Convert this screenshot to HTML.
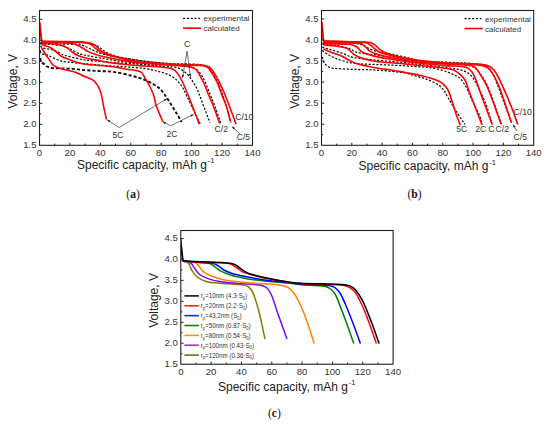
<!DOCTYPE html>
<html><head><meta charset="utf-8"><style>
html,body{margin:0;padding:0;background:#fff;}
svg{display:block;font-family:"Liberation Sans", sans-serif;}
</style></head><body>
<svg width="550" height="424" viewBox="0 0 550 424">
<rect width="550" height="424" fill="#fff"/>
<defs><clipPath id="ca"><rect x="39.5" y="10.5" width="213.0" height="134.8"/></clipPath><clipPath id="cb"><rect x="321.5" y="10.5" width="212.20000000000005" height="134.8"/></clipPath><clipPath id="cc"><rect x="180.8" y="230.5" width="212.3" height="133.7"/></clipPath></defs>
<path d="M39.6,22.0L41.6,41.5" stroke="#ff0000" stroke-width="2" fill="none" clip-path="url(#ca)"/>
<path d="M40.30,58.00C40.53,59.23 40.35,60.64 41.00,61.70C41.73,62.89 43.81,63.73 44.80,64.60C45.50,65.22 45.68,65.81 46.50,66.30C47.81,67.08 49.93,67.60 52.40,68.00C56.33,68.63 62.77,68.27 68.00,68.60C73.30,68.93 78.84,69.59 84.00,70.00C88.82,70.38 93.28,70.70 98.00,71.00C102.84,71.30 107.51,71.12 112.70,71.80C118.68,72.58 126.34,74.43 131.80,75.80C135.96,76.85 139.12,77.62 142.70,79.00C146.39,80.43 150.51,82.48 153.60,84.30C156.08,85.76 158.11,87.03 160.00,88.80C161.91,90.59 163.26,92.58 165.00,95.00C167.22,98.09 169.87,102.62 172.00,106.00C173.81,108.87 175.41,111.31 177.00,114.00C178.57,116.65 180.00,119.33 181.50,122.00" fill="none" stroke="#111" stroke-width="1.9" stroke-dasharray="3.2,2.0" clip-path="url(#ca)"/>
<path d="M40.30,51.00C40.53,51.73 40.41,52.61 41.00,53.20C41.94,54.13 44.59,54.20 46.50,54.90C48.67,55.69 50.90,56.81 53.30,57.80C55.97,58.90 59.15,60.49 61.80,61.20C63.99,61.79 65.45,61.79 68.00,62.10C72.09,62.60 79.95,63.33 84.00,63.70C86.48,63.93 87.42,63.98 90.00,64.20C94.72,64.60 102.52,65.31 110.00,65.90C119.57,66.66 133.55,67.04 142.70,68.30C149.41,69.22 155.45,70.61 160.00,71.80C163.04,72.59 165.12,73.17 167.50,74.20C169.85,75.21 172.25,76.43 174.20,77.90C176.01,79.27 177.44,80.93 178.90,82.60C180.38,84.29 181.74,85.92 183.00,88.00C184.48,90.45 185.59,93.52 187.00,96.50C188.57,99.82 190.36,103.64 192.00,107.00C193.52,110.12 195.06,113.03 196.50,116.00C197.89,118.87 199.17,121.67 200.50,124.50" fill="none" stroke="#111" stroke-width="1.25" stroke-dasharray="2.2,1.6" clip-path="url(#ca)"/>
<path d="M40.30,46.00C41.23,46.70 41.85,47.57 43.10,48.10C44.95,48.88 48.27,48.65 50.70,49.30C53.06,49.93 55.33,50.94 57.50,51.90C59.59,52.82 61.61,54.16 63.50,54.90C65.08,55.52 66.03,55.69 68.00,56.20C71.69,57.16 79.93,59.23 84.00,59.90C86.46,60.31 87.36,60.25 90.00,60.50C95.14,60.98 104.78,61.89 112.70,62.50C121.38,63.17 131.10,63.60 140.00,64.30C148.52,64.97 156.67,65.83 165.00,66.60" fill="none" stroke="#111" stroke-width="1.25" stroke-dasharray="2.2,1.6" clip-path="url(#ca)"/>
<path d="M40.30,43.80C45.20,44.10 50.78,44.15 55.00,44.70C58.24,45.12 61.13,45.80 63.50,46.40C65.25,46.85 66.43,47.14 68.00,47.80C69.89,48.59 72.00,49.95 74.00,51.00C76.00,52.05 78.16,53.43 80.00,54.10C81.43,54.62 82.53,54.70 84.00,55.00C85.79,55.37 87.36,55.62 90.00,56.10C95.14,57.02 104.77,58.85 112.70,60.10C121.37,61.47 131.09,62.82 140.00,63.90C148.51,64.93 158.18,65.86 165.00,66.50C169.72,66.94 173.82,66.59 177.00,67.50C179.30,68.16 180.86,69.27 182.60,70.40C184.32,71.51 185.98,72.77 187.40,74.20C188.81,75.61 189.98,77.30 191.10,78.90C192.17,80.44 193.05,82.03 194.00,83.60C194.95,85.16 196.01,86.70 196.80,88.30C197.56,89.84 198.07,91.41 198.70,93.00C199.34,94.64 199.88,96.09 200.60,98.00C201.57,100.56 202.70,103.59 204.00,107.00C205.71,111.49 208.00,117.40 210.00,122.60" fill="none" stroke="#111" stroke-width="1.25" stroke-dasharray="2.2,1.6" clip-path="url(#ca)"/>
<path d="M40.30,43.50C46.87,43.67 53.41,43.78 60.00,44.00C66.64,44.22 75.90,44.16 80.00,44.80C81.87,45.09 82.51,45.35 84.00,45.90C86.02,46.65 88.77,48.21 90.90,49.20C92.72,50.05 94.24,50.75 96.00,51.50C97.86,52.29 99.53,53.09 101.80,53.80C104.84,54.74 108.23,55.44 112.70,56.30C119.73,57.64 130.68,59.16 140.00,60.50C149.76,61.90 161.27,63.38 170.00,64.50C176.76,65.36 183.52,65.81 188.00,66.70C190.73,67.24 192.62,67.62 194.50,68.50C196.16,69.28 197.48,70.18 198.80,71.50C200.36,73.06 201.72,75.23 203.00,77.50C204.49,80.13 205.70,83.41 207.00,86.50C208.36,89.73 209.67,93.17 211.00,96.50C212.33,99.83 213.58,102.68 215.00,106.50C216.86,111.50 219.00,118.17 221.00,124.00" fill="none" stroke="#111" stroke-width="1.25" stroke-dasharray="2.2,1.6" clip-path="url(#ca)"/>
<path d="M40.30,42.50C53.53,42.60 71.16,42.46 80.00,42.80C84.44,42.97 87.26,43.00 90.00,43.50C91.98,43.86 93.40,44.33 95.00,45.00C96.60,45.67 98.22,46.57 99.60,47.50C100.86,48.35 101.51,49.33 103.00,50.30C105.35,51.83 108.52,53.76 112.70,55.20C119.38,57.50 130.65,59.23 140.00,60.60C149.73,62.03 159.68,62.74 170.00,63.50C180.97,64.30 198.30,63.53 204.00,65.20C206.10,65.82 206.74,66.48 208.00,67.50C209.43,68.67 210.64,70.07 212.00,72.00C213.95,74.78 216.29,79.37 218.00,83.00C219.58,86.37 220.72,89.50 222.00,93.00C223.39,96.80 224.64,100.61 226.00,105.00C227.63,110.27 229.33,116.67 231.00,122.50" fill="none" stroke="#111" stroke-width="1.25" stroke-dasharray="2.2,1.6" clip-path="url(#ca)"/>
<path d="M41.60,48.00C42.73,49.83 43.76,51.61 45.00,53.50C46.37,55.59 48.09,57.98 49.50,60.00C50.74,61.78 51.59,63.73 53.00,65.00C54.29,66.17 55.82,66.78 57.50,67.50C59.43,68.32 61.49,68.80 64.00,69.50C67.38,70.44 72.46,71.23 76.00,72.50C79.00,73.57 81.21,75.02 84.00,76.30C87.02,77.69 90.90,78.32 93.50,80.50C96.21,82.76 98.15,86.01 99.80,89.80C101.91,94.66 102.71,102.47 103.90,107.80C104.85,112.06 105.57,115.47 106.40,119.30" fill="none" stroke="#ff0000" stroke-width="1.6" clip-path="url(#ca)"/>
<path d="M41.60,44.50C44.43,45.50 47.62,46.22 50.10,47.50C52.28,48.62 53.94,50.04 55.80,51.50C57.74,53.03 59.42,55.24 61.50,56.50C63.50,57.71 65.72,58.13 68.00,59.00C70.53,59.96 73.31,61.16 76.00,62.00C78.64,62.82 80.48,63.39 84.00,64.00C90.58,65.14 104.90,65.74 112.70,66.80C118.12,67.54 122.09,68.51 126.40,69.20C130.24,69.82 134.53,70.06 137.30,70.80C139.10,71.28 140.38,71.48 141.60,72.50C143.04,73.70 143.82,76.01 145.00,78.00C146.37,80.30 147.93,82.82 149.30,85.50C150.81,88.45 152.48,91.74 153.60,95.00C154.71,98.24 154.81,101.29 156.00,105.00C157.58,109.91 160.53,116.13 162.80,121.70" fill="none" stroke="#ff0000" stroke-width="1.6" clip-path="url(#ca)"/>
<path d="M41.60,43.30C46.07,43.53 51.22,43.52 55.00,44.00C57.82,44.36 60.06,44.73 62.30,45.50C64.37,46.21 66.25,47.14 68.00,48.30C69.75,49.47 71.11,51.29 72.80,52.50C74.44,53.68 76.16,54.66 78.00,55.50C79.89,56.37 81.98,57.01 84.00,57.60C85.98,58.18 87.96,58.59 90.00,59.00C92.09,59.42 93.78,59.64 96.40,60.10C100.59,60.83 106.55,62.14 112.70,63.00C120.62,64.11 131.09,65.04 140.00,65.80C148.51,66.53 159.25,66.77 165.00,67.50C168.07,67.89 170.06,68.00 172.00,68.80C173.60,69.45 174.68,70.13 176.00,71.50C178.02,73.58 179.92,77.00 182.00,81.00C185.16,87.08 188.98,97.42 192.00,105.00C194.68,111.73 196.87,117.80 199.30,124.20" fill="none" stroke="#ff0000" stroke-width="1.6" clip-path="url(#ca)"/>
<path d="M41.60,42.20C47.73,42.40 54.52,42.55 60.00,42.80C64.43,43.00 68.72,42.87 72.00,43.50C74.38,43.96 76.01,44.61 78.00,45.50C80.15,46.47 82.49,48.05 84.40,49.20C85.98,50.16 86.81,51.00 88.70,51.90C91.82,53.38 96.83,54.98 101.80,56.30C108.10,57.97 116.84,59.44 123.60,60.60C129.44,61.60 133.70,62.33 140.00,63.00C148.49,63.90 161.56,64.38 170.00,65.00C176.17,65.46 181.96,65.73 186.00,66.30C188.49,66.65 190.24,66.90 192.00,67.50C193.51,68.02 194.79,68.42 196.00,69.50C197.57,70.90 198.75,73.45 200.10,75.80C201.69,78.58 203.38,82.00 204.80,85.20C206.22,88.40 207.25,91.73 208.60,95.00C209.98,98.33 211.45,101.13 213.00,105.00C215.08,110.18 217.47,117.27 219.70,123.40" fill="none" stroke="#ff0000" stroke-width="1.6" clip-path="url(#ca)"/>
<path d="M41.60,41.60C47.73,41.70 53.59,41.79 60.00,41.90C67.01,42.02 76.98,41.88 82.00,42.30C84.64,42.52 86.24,42.64 88.00,43.20C89.51,43.68 90.70,44.31 92.00,45.20C93.50,46.23 94.80,48.00 96.40,49.20C98.05,50.44 99.62,51.47 101.80,52.50C104.74,53.89 109.04,55.21 112.70,56.30C116.31,57.37 119.58,58.11 123.60,59.00C128.50,60.08 133.69,61.36 140.00,62.20C148.47,63.33 159.99,63.85 170.00,64.40C179.99,64.95 194.21,64.93 200.00,65.50C202.38,65.73 203.56,65.90 205.00,66.30C206.15,66.62 207.02,66.72 208.00,67.50C209.52,68.71 210.91,71.47 212.40,73.90C214.23,76.89 216.43,80.66 218.00,84.20C219.55,87.70 220.45,91.49 221.80,95.00C223.12,98.42 224.71,101.19 226.00,105.00C227.63,109.81 228.93,116.13 230.40,121.70" fill="none" stroke="#ff0000" stroke-width="1.6" clip-path="url(#ca)"/>
<path d="M41.60,41.20C47.73,41.30 53.40,41.35 60.00,41.50C67.70,41.67 79.53,41.67 85.00,42.20C87.70,42.46 89.21,42.61 91.00,43.20C92.60,43.73 93.94,44.41 95.30,45.40C96.83,46.51 97.99,48.45 99.60,49.70C101.25,50.99 102.89,51.97 105.10,53.00C108.06,54.39 111.61,55.58 116.00,56.80C122.40,58.57 131.51,60.61 140.00,61.80C149.40,63.12 159.76,63.42 170.00,64.00C180.73,64.60 197.09,64.53 203.00,65.30C205.21,65.59 206.18,65.79 207.50,66.30C208.64,66.74 209.53,67.15 210.50,68.00C211.79,69.13 212.91,70.91 214.20,72.90C215.99,75.67 218.11,79.69 219.90,83.30C221.76,87.05 223.53,91.24 225.10,95.00C226.54,98.45 227.53,101.12 229.00,105.00C231.04,110.36 233.73,117.80 236.10,124.20" fill="none" stroke="#ff0000" stroke-width="1.6" clip-path="url(#ca)"/>
<rect x="39.50" y="10.50" width="213.00" height="134.80" fill="none" stroke="#222" stroke-width="1.1"/>
<path d="M54.71,145.30v-1.6M69.93,145.30v-2.6M85.14,145.30v-1.6M100.36,145.30v-2.6M115.57,145.30v-1.6M130.79,145.30v-2.6M146.00,145.30v-1.6M161.21,145.30v-2.6M176.43,145.30v-1.6M191.64,145.30v-2.6M206.86,145.30v-1.6M222.07,145.30v-2.6M237.29,145.30v-1.6M39.50,134.80h1.6M39.50,124.30h2.8M39.50,113.80h1.6M39.50,103.30h2.8M39.50,92.80h1.6M39.50,82.30h2.8M39.50,71.80h1.6M39.50,61.30h2.8M39.50,50.80h1.6M39.50,40.30h2.8M39.50,29.80h1.6M39.50,19.30h2.8" stroke="#222" stroke-width="1" fill="none"/>
<text x="36.50" y="147.90" text-anchor="end" font-size="9.6" fill="#333">1.5</text>
<text x="36.50" y="126.90" text-anchor="end" font-size="9.6" fill="#333">2.0</text>
<text x="36.50" y="105.90" text-anchor="end" font-size="9.6" fill="#333">2.5</text>
<text x="36.50" y="84.90" text-anchor="end" font-size="9.6" fill="#333">3.0</text>
<text x="36.50" y="63.90" text-anchor="end" font-size="9.6" fill="#333">3.5</text>
<text x="36.50" y="42.90" text-anchor="end" font-size="9.6" fill="#333">4.0</text>
<text x="36.50" y="21.90" text-anchor="end" font-size="9.6" fill="#333">4.5</text>
<text x="39.50" y="156.10" text-anchor="middle" font-size="9.6" fill="#333">0</text>
<text x="69.93" y="156.10" text-anchor="middle" font-size="9.6" fill="#333">20</text>
<text x="100.36" y="156.10" text-anchor="middle" font-size="9.6" fill="#333">40</text>
<text x="130.79" y="156.10" text-anchor="middle" font-size="9.6" fill="#333">60</text>
<text x="161.21" y="156.10" text-anchor="middle" font-size="9.6" fill="#333">80</text>
<text x="191.64" y="156.10" text-anchor="middle" font-size="9.6" fill="#333">100</text>
<text x="222.07" y="156.10" text-anchor="middle" font-size="9.6" fill="#333">120</text>
<text x="252.50" y="156.10" text-anchor="middle" font-size="9.6" fill="#333">140</text>
<text x="77.00" y="169.00" font-size="12" fill="#222">Specific capacity, mAh g<tspan dx="0.8" dy="-5.8" font-size="7.5">-1</tspan></text>
<text transform="translate(17.40,81.30) rotate(-90)" text-anchor="middle" font-size="12" fill="#222">Voltage, V</text>
<path d="M183.00,18.30h17" stroke="#111" stroke-width="1.2" stroke-dasharray="2.2,1.6"/>
<path d="M183.00,28.20h18.2" stroke="#ff0000" stroke-width="1.6"/>
<text x="203.60" y="21.30" font-size="8" fill="#333">experimental</text>
<text x="203.60" y="31.20" font-size="8" fill="#333">calculated</text>
<text x="184.00" y="46.60" font-size="8.6" fill="#333">C</text>
<path d="M187.10,51.20L182.50,77.80" stroke="#333" stroke-width="0.7" fill="none"/>
<path d="M182.50,77.80L181.83,74.64L184.19,75.05Z" fill="#222"/>
<path d="M187.10,51.20L190.40,76.80" stroke="#333" stroke-width="0.7" fill="none"/>
<path d="M190.40,76.80L188.83,73.98L191.21,73.67Z" fill="#222"/>
<text x="112.60" y="138.20" font-size="8.6" fill="#333">5C</text>
<path d="M119.10,127.50L107.20,119.80" stroke="#333" stroke-width="0.7" fill="none"/>
<path d="M107.20,119.80L110.37,120.42L109.07,122.44Z" fill="#222"/>
<path d="M119.10,127.50L166.90,98.80" stroke="#333" stroke-width="0.7" fill="none"/>
<path d="M166.90,98.80L164.95,101.37L163.71,99.32Z" fill="#222"/>
<text x="166.60" y="137.40" font-size="8.6" fill="#333">2C</text>
<path d="M170.60,125.80L162.80,121.70" stroke="#333" stroke-width="0.7" fill="none"/>
<path d="M162.80,121.70L166.01,122.03L164.90,124.16Z" fill="#222"/>
<path d="M170.60,125.80L193.60,114.40" stroke="#333" stroke-width="0.7" fill="none"/>
<path d="M193.60,114.40L191.44,116.81L190.38,114.66Z" fill="#222"/>
<text x="214.60" y="132.40" font-size="8.6" fill="#333">C/2</text>
<text x="235.20" y="120.10" font-size="8.6" fill="#333">C/10</text>
<text x="236.70" y="140.20" font-size="8.6" fill="#333">C/5</text>
<path d="M240.20,134.00L232.00,126.60" stroke="#333" stroke-width="0.7" fill="none"/>
<path d="M232.00,126.60L235.03,127.72L233.42,129.50Z" fill="#222"/>
<path d="M321.7,22.0L323.4,41.0" stroke="#ff0000" stroke-width="2" fill="none" clip-path="url(#cb)"/>
<path d="M322.30,57.00C323.00,59.03 323.23,61.38 324.40,63.10C325.57,64.82 327.29,66.38 329.30,67.30C331.63,68.37 334.35,68.26 337.80,68.60C343.09,69.12 351.56,69.26 358.00,69.50C363.91,69.72 369.28,69.67 375.00,70.00C380.85,70.33 387.34,70.95 392.70,71.50C397.18,71.96 401.01,72.20 405.00,73.00C408.90,73.78 412.65,75.11 416.40,76.20C420.08,77.27 423.72,78.08 427.30,79.50C431.00,80.96 435.31,82.89 438.20,84.90C440.46,86.47 442.02,88.00 443.60,90.00C445.32,92.18 446.22,94.60 448.00,97.60C450.64,102.04 454.92,109.17 458.00,114.00C460.50,117.92 462.67,121.00 465.00,124.50" fill="none" stroke="#111" stroke-width="1.25" stroke-dasharray="2.2,1.6" clip-path="url(#cb)"/>
<path d="M322.20,50.50C324.13,51.83 325.93,53.28 328.00,54.50C330.18,55.79 332.31,56.89 335.00,58.00C338.42,59.42 342.96,61.05 347.00,62.00C350.96,62.93 354.70,63.29 359.00,63.70C363.94,64.17 369.53,64.26 375.00,64.50C380.75,64.76 386.17,64.88 392.70,65.20C400.82,65.60 412.62,66.24 420.00,66.80C425.04,67.19 428.38,67.22 432.70,68.00C437.34,68.83 442.94,70.44 446.90,71.80C449.87,72.82 452.21,73.82 454.50,75.00C456.53,76.04 458.28,76.79 460.00,78.40C462.18,80.44 464.14,83.58 466.00,86.80C468.20,90.61 469.87,95.47 472.00,100.00C474.28,104.85 477.46,110.52 479.30,115.00C480.72,118.48 481.43,121.33 482.50,124.50" fill="none" stroke="#111" stroke-width="1.25" stroke-dasharray="2.2,1.6" clip-path="url(#cb)"/>
<path d="M322.20,47.00C324.13,47.67 325.96,48.39 328.00,49.00C330.21,49.66 332.60,50.07 335.00,50.80C337.59,51.59 340.34,52.60 343.00,53.60C345.68,54.60 348.30,56.00 351.00,56.80C353.63,57.58 355.86,57.93 359.00,58.40C363.40,59.06 368.90,59.43 375.00,60.00C383.16,60.76 395.39,61.64 403.60,62.50C409.83,63.15 413.76,63.74 420.00,64.50C428.30,65.51 440.93,66.73 449.00,68.00C454.84,68.92 460.01,69.25 464.00,70.90C467.05,72.16 469.30,73.70 471.40,75.90C473.70,78.30 475.04,81.35 477.00,85.00C479.75,90.12 483.30,97.50 485.80,104.00C488.30,110.50 489.93,117.33 492.00,124.00" fill="none" stroke="#111" stroke-width="1.25" stroke-dasharray="2.2,1.6" clip-path="url(#cb)"/>
<path d="M322.20,44.20C326.47,44.53 331.25,44.68 335.00,45.20C337.99,45.61 340.35,46.14 343.00,46.80C345.68,47.47 348.83,48.27 351.00,49.20C352.61,49.89 353.55,50.88 355.00,51.50C356.54,52.16 357.83,52.55 360.00,53.00C363.87,53.81 370.95,54.27 376.40,55.00C381.85,55.73 386.57,56.47 392.70,57.40C400.64,58.61 409.51,60.45 420.00,61.70C434.14,63.39 461.54,63.31 470.00,65.80C473.11,66.72 474.21,67.55 476.00,69.00C477.91,70.56 479.35,72.67 481.00,75.00C483.02,77.84 484.81,80.44 487.00,85.00C491.14,93.62 496.67,111.00 501.50,124.00" fill="none" stroke="#111" stroke-width="1.25" stroke-dasharray="2.2,1.6" clip-path="url(#cb)"/>
<path d="M322.20,43.00C331.47,43.10 343.93,43.13 350.00,43.30C352.96,43.38 354.43,43.28 356.60,43.60C358.77,43.92 360.98,44.40 363.00,45.20C365.01,46.00 366.72,47.47 368.70,48.40C370.71,49.34 372.47,50.07 375.00,50.80C378.60,51.84 383.80,52.54 388.40,53.50C393.31,54.53 398.44,55.66 403.60,56.80C408.97,57.99 412.67,59.41 420.00,60.50C434.44,62.64 476.52,62.19 485.00,65.20C487.32,66.02 487.77,66.75 489.00,68.00C490.49,69.53 491.74,71.63 493.00,74.00C494.62,77.05 495.63,80.22 497.50,85.00C500.93,93.76 506.83,110.00 511.50,122.50" fill="none" stroke="#111" stroke-width="1.25" stroke-dasharray="2.2,1.6" clip-path="url(#cb)"/>
<path d="M323.20,48.80C325.13,49.70 327.03,50.70 329.00,51.50C330.96,52.30 332.87,52.80 335.00,53.60C337.48,54.53 340.52,55.60 343.00,56.80C345.30,57.92 347.31,59.45 349.40,60.50C351.30,61.45 352.51,62.08 355.00,62.90C359.57,64.42 368.51,66.47 375.00,67.70C381.05,68.85 387.34,69.32 392.70,70.20C397.18,70.94 400.58,71.65 405.00,72.50C410.17,73.49 416.46,74.49 421.80,75.80C426.76,77.02 432.41,78.60 436.00,80.00C438.31,80.90 439.87,81.52 441.50,82.70C443.14,83.88 444.64,85.75 445.80,87.10C446.69,88.14 447.18,88.46 448.00,90.00C450.20,94.15 454.08,108.50 456.40,115.00C457.90,119.20 459.00,121.87 460.30,125.30" fill="none" stroke="#ff0000" stroke-width="1.6" clip-path="url(#cb)"/>
<path d="M323.20,44.80C327.13,45.20 331.45,45.53 335.00,46.00C337.93,46.39 340.80,46.82 343.00,47.30C344.57,47.64 345.73,47.75 347.00,48.40C348.41,49.12 349.68,50.48 351.00,51.60C352.35,52.75 353.41,54.18 355.00,55.20C356.83,56.37 358.90,57.13 361.50,58.00C365.15,59.22 369.77,60.44 375.00,61.30C382.02,62.46 392.13,62.76 400.00,63.50C407.04,64.16 413.06,64.79 420.00,65.50C427.54,66.28 437.26,66.94 443.60,68.00C447.95,68.73 451.59,69.17 454.50,70.50C456.77,71.53 458.28,72.96 460.00,74.50C461.79,76.11 463.64,77.73 465.00,80.00C466.63,82.71 466.99,85.68 468.60,90.00C471.61,98.08 477.47,113.07 481.90,124.60" fill="none" stroke="#ff0000" stroke-width="1.6" clip-path="url(#cb)"/>
<path d="M323.20,43.90C330.47,44.00 339.61,43.88 345.00,44.20C348.19,44.39 350.40,44.35 352.60,45.00C354.47,45.55 356.03,46.42 357.50,47.50C359.00,48.61 359.94,50.52 361.50,51.60C363.10,52.70 364.97,53.26 367.00,54.00C369.39,54.88 371.78,55.64 375.00,56.40C379.72,57.52 386.15,58.48 392.70,59.50C400.81,60.76 411.09,62.17 420.00,63.20C428.51,64.18 436.95,64.86 445.00,65.60C452.51,66.29 462.21,65.56 466.80,67.50C469.37,68.59 470.53,70.11 472.00,72.00C473.68,74.16 474.75,77.05 476.00,80.00C477.45,83.42 478.28,86.62 480.00,91.40C482.95,99.59 488.20,113.53 492.30,124.60" fill="none" stroke="#ff0000" stroke-width="1.6" clip-path="url(#cb)"/>
<path d="M323.20,42.50C333.80,42.67 348.41,42.54 355.00,43.00C357.99,43.21 359.68,43.06 361.50,43.80C363.09,44.44 364.29,45.70 365.50,46.80C366.68,47.87 367.34,49.27 368.70,50.30C370.36,51.56 372.82,52.63 375.00,53.50C377.18,54.37 378.87,54.76 381.80,55.50C386.99,56.81 396.83,58.93 403.60,60.10C409.43,61.11 413.70,61.67 420.00,62.30C428.49,63.15 441.01,63.78 450.00,64.30C457.34,64.73 465.61,64.34 470.00,65.30C472.28,65.80 473.51,66.17 475.00,67.30C476.75,68.63 477.99,70.98 479.50,73.20C481.31,75.86 483.43,79.35 485.00,82.30C486.41,84.94 487.13,86.47 488.60,90.00C491.65,97.31 497.00,112.87 501.20,124.30" fill="none" stroke="#ff0000" stroke-width="1.6" clip-path="url(#cb)"/>
<path d="M323.20,41.40C330.47,41.53 338.41,41.67 345.00,41.80C350.47,41.90 356.13,41.84 360.00,42.10C362.46,42.27 364.07,42.16 366.00,42.80C368.05,43.48 370.23,44.98 371.90,46.20C373.31,47.24 374.11,48.47 375.50,49.50C377.09,50.69 378.63,51.80 381.00,52.80C384.69,54.36 390.39,55.54 396.00,56.80C403.04,58.38 411.52,60.10 420.00,61.20C429.41,62.42 440.00,62.83 450.00,63.50C460.00,64.17 473.85,64.22 480.00,65.20C482.80,65.65 484.28,65.93 486.00,66.80C487.56,67.59 488.80,68.70 490.00,70.00C491.32,71.42 492.32,73.09 493.50,75.10C495.04,77.71 496.66,80.93 498.20,84.50C500.14,88.98 502.25,95.26 503.90,100.00C505.28,103.97 506.25,107.30 507.50,111.00C508.78,114.80 510.17,118.67 511.50,122.50" fill="none" stroke="#ff0000" stroke-width="1.6" clip-path="url(#cb)"/>
<path d="M323.20,41.00C330.47,41.17 338.41,41.31 345.00,41.50C350.47,41.65 355.51,41.81 360.00,42.00C363.67,42.15 367.23,41.74 370.00,42.50C372.18,43.10 373.83,44.20 375.50,45.40C377.17,46.60 378.30,48.45 380.00,49.70C381.78,51.01 383.07,51.89 386.00,53.00C392.61,55.50 408.96,58.93 420.00,60.60C430.26,62.15 439.83,62.34 450.00,63.00C460.49,63.68 475.57,63.80 482.00,64.60C484.81,64.95 486.25,65.12 488.00,65.80C489.53,66.39 490.82,67.24 492.00,68.20C493.15,69.14 493.99,70.11 495.00,71.50C496.39,73.42 497.82,76.20 499.20,78.90C500.79,82.02 502.35,85.72 503.90,89.20C505.48,92.75 507.09,96.37 508.60,100.00C510.12,103.64 511.54,107.12 513.00,111.00C514.61,115.28 516.20,120.07 517.80,124.60" fill="none" stroke="#ff0000" stroke-width="1.6" clip-path="url(#cb)"/>
<rect x="321.50" y="10.50" width="212.20" height="134.80" fill="none" stroke="#222" stroke-width="1.1"/>
<path d="M336.66,145.30v-1.6M351.81,145.30v-2.6M366.97,145.30v-1.6M382.13,145.30v-2.6M397.29,145.30v-1.6M412.44,145.30v-2.6M427.60,145.30v-1.6M442.76,145.30v-2.6M457.91,145.30v-1.6M473.07,145.30v-2.6M488.23,145.30v-1.6M503.39,145.30v-2.6M518.54,145.30v-1.6M321.50,134.77h1.6M321.50,124.23h2.8M321.50,113.70h1.6M321.50,103.17h2.8M321.50,92.63h1.6M321.50,82.10h2.8M321.50,71.57h1.6M321.50,61.03h2.8M321.50,50.50h1.6M321.50,39.97h2.8M321.50,29.43h1.6M321.50,18.90h2.8" stroke="#222" stroke-width="1" fill="none"/>
<text x="318.50" y="147.90" text-anchor="end" font-size="9.6" fill="#333">1.5</text>
<text x="318.50" y="126.83" text-anchor="end" font-size="9.6" fill="#333">2.0</text>
<text x="318.50" y="105.77" text-anchor="end" font-size="9.6" fill="#333">2.5</text>
<text x="318.50" y="84.70" text-anchor="end" font-size="9.6" fill="#333">3.0</text>
<text x="318.50" y="63.63" text-anchor="end" font-size="9.6" fill="#333">3.5</text>
<text x="318.50" y="42.57" text-anchor="end" font-size="9.6" fill="#333">4.0</text>
<text x="318.50" y="21.50" text-anchor="end" font-size="9.6" fill="#333">4.5</text>
<text x="321.50" y="156.10" text-anchor="middle" font-size="9.6" fill="#333">0</text>
<text x="351.81" y="156.10" text-anchor="middle" font-size="9.6" fill="#333">20</text>
<text x="382.13" y="156.10" text-anchor="middle" font-size="9.6" fill="#333">40</text>
<text x="412.44" y="156.10" text-anchor="middle" font-size="9.6" fill="#333">60</text>
<text x="442.76" y="156.10" text-anchor="middle" font-size="9.6" fill="#333">80</text>
<text x="473.07" y="156.10" text-anchor="middle" font-size="9.6" fill="#333">100</text>
<text x="503.39" y="156.10" text-anchor="middle" font-size="9.6" fill="#333">120</text>
<text x="533.70" y="156.10" text-anchor="middle" font-size="9.6" fill="#333">140</text>
<text x="358.50" y="170.30" font-size="12" fill="#222">Specific capacity, mAh g<tspan dx="0.8" dy="-5.8" font-size="7.5">-1</tspan></text>
<text transform="translate(299.40,81.30) rotate(-90)" text-anchor="middle" font-size="12" fill="#222">Voltage, V</text>
<path d="M464.50,18.70h17" stroke="#111" stroke-width="1.2" stroke-dasharray="2.2,1.6"/>
<path d="M464.50,28.50h18.2" stroke="#ff0000" stroke-width="1.6"/>
<text x="485.10" y="21.70" font-size="8" fill="#333">experimental</text>
<text x="485.10" y="31.50" font-size="8" fill="#333">calculated</text>
<text x="456.30" y="132.20" font-size="8.6" fill="#333">5C</text>
<text x="475.20" y="132.20" font-size="8.6" fill="#333">2C</text>
<text x="488.30" y="132.20" font-size="8.6" fill="#333">C</text>
<text x="495.60" y="132.20" font-size="8.6" fill="#333">C/2</text>
<text x="513.60" y="114.90" font-size="8.6" fill="#333">C/10</text>
<text x="513.60" y="139.50" font-size="8.6" fill="#333">C/5</text>
<path d="M517.10,131.20L513.00,124.60" stroke="#333" stroke-width="0.7" fill="none"/>
<path d="M513.00,124.60L515.60,126.52L513.56,127.78Z" fill="#222"/>
<path d="M180.3,238.5L182.8,261.0" stroke="#000" stroke-width="2" fill="none" clip-path="url(#cc)"/>
<path d="M182.80,261.10C184.60,261.73 186.74,261.71 188.20,263.00C189.98,264.57 190.50,268.25 192.00,270.60C193.47,272.91 194.93,275.23 197.10,277.00C199.49,278.95 202.47,280.44 206.00,281.50C210.56,282.87 216.70,282.84 222.50,283.40C228.96,284.02 238.51,284.16 243.00,285.00C245.26,285.42 246.54,285.57 248.00,286.50C249.57,287.50 250.73,288.85 252.00,291.00C254.19,294.72 256.10,301.42 258.00,308.00C260.52,316.73 262.67,328.67 265.00,339.00" fill="none" stroke="#808000" stroke-width="1.5" clip-path="url(#cc)"/>
<path d="M182.80,261.10C185.43,261.73 188.70,261.68 190.70,263.00C192.47,264.17 193.12,266.32 194.50,268.10C196.06,270.12 197.43,272.75 199.60,274.50C201.99,276.43 205.12,277.70 208.50,278.90C212.57,280.35 217.10,281.29 222.50,282.10C229.70,283.18 240.77,283.34 248.00,284.00C253.37,284.49 258.57,284.50 262.00,285.50C264.16,286.13 265.56,286.73 267.00,288.00C268.63,289.44 269.66,291.30 271.00,294.00C273.30,298.62 275.50,306.97 278.00,314.00C280.80,321.87 284.00,330.67 287.00,339.00" fill="none" stroke="#8000ff" stroke-width="1.5" clip-path="url(#cc)"/>
<path d="M182.80,261.10C186.70,261.53 191.75,261.27 194.50,262.40C196.29,263.14 197.09,264.19 198.40,265.50C200.08,267.18 201.41,270.21 203.50,271.90C205.63,273.62 208.26,274.53 211.10,275.70C214.47,277.10 217.88,278.45 222.50,279.50C229.25,281.03 240.00,281.94 248.00,282.70C255.06,283.37 261.93,283.48 268.00,284.00C273.09,284.44 278.34,284.70 282.00,285.50C284.45,286.03 286.19,286.45 288.00,287.50C289.87,288.59 291.35,289.97 293.00,292.00C295.37,294.91 297.79,299.46 300.00,304.00C302.67,309.48 305.17,316.33 307.50,322.80C309.92,329.52 311.97,336.67 314.20,343.60" fill="none" stroke="#ff8000" stroke-width="1.5" clip-path="url(#cc)"/>
<path d="M182.80,261.10C187.87,261.53 193.26,261.96 198.00,262.40C202.18,262.79 206.77,262.56 209.80,263.60C211.96,264.34 213.22,265.65 214.90,266.80C216.62,267.98 217.99,269.43 220.00,270.60C222.49,272.05 225.31,273.31 228.90,274.50C234.00,276.19 241.53,277.77 248.00,278.90C254.56,280.05 261.33,280.62 268.00,281.30C274.66,281.98 282.19,282.37 288.00,283.00C292.51,283.49 295.48,284.16 300.00,284.60C305.81,285.16 315.19,285.28 320.00,285.80C322.73,286.09 324.50,286.12 326.40,286.80C328.12,287.42 329.60,288.35 331.00,289.50C332.49,290.72 333.68,291.90 335.00,294.00C337.21,297.52 339.45,304.43 341.50,309.60C343.51,314.66 345.26,319.37 347.20,324.70C349.36,330.63 351.60,337.30 353.80,343.60" fill="none" stroke="#008000" stroke-width="1.5" clip-path="url(#cc)"/>
<path d="M182.80,261.10C188.53,261.47 194.61,261.75 200.00,262.20C204.80,262.60 210.22,262.60 213.60,263.60C215.78,264.24 217.04,265.17 218.70,266.20C220.45,267.29 221.85,268.89 223.80,270.00C226.04,271.27 228.40,272.21 231.50,273.20C235.92,274.62 242.22,275.83 248.00,277.00C254.33,278.28 261.32,279.58 268.00,280.50C274.65,281.41 282.19,281.80 288.00,282.50C292.51,283.05 295.26,283.76 300.00,284.20C306.81,284.83 319.24,284.76 325.00,285.30C328.06,285.59 330.04,285.65 332.00,286.30C333.57,286.83 334.75,287.50 336.00,288.50C337.44,289.65 338.70,291.06 340.00,293.00C341.84,295.77 343.46,299.81 345.30,304.00C347.67,309.40 350.34,316.36 352.80,322.80C355.38,329.54 357.87,336.67 360.40,343.60" fill="none" stroke="#0000ff" stroke-width="1.5" clip-path="url(#cc)"/>
<path d="M182.80,261.10C188.53,261.37 194.35,261.65 200.00,261.90C205.48,262.15 211.12,262.31 216.20,262.60C220.72,262.86 225.39,262.46 229.00,263.50C231.94,264.34 234.29,266.10 236.50,267.50C238.41,268.71 239.72,270.29 241.60,271.30C243.54,272.34 245.44,272.79 248.00,273.60C251.75,274.78 256.59,276.19 262.00,277.40C269.31,279.03 280.98,280.91 288.00,282.00C292.75,282.74 294.82,283.16 300.00,283.60C309.42,284.39 332.15,284.19 340.00,285.00C343.31,285.34 345.04,285.49 347.00,286.20C348.58,286.77 349.71,287.58 351.00,288.50C352.38,289.49 353.63,290.27 355.00,292.00C357.34,294.96 359.98,300.77 362.30,305.80C364.95,311.54 367.44,318.38 369.80,324.70C372.14,330.98 374.20,337.30 376.40,343.60" fill="none" stroke="#ff0000" stroke-width="1.5" clip-path="url(#cc)"/>
<path d="M182.80,261.10C188.53,261.30 194.35,261.48 200.00,261.70C205.48,261.91 210.88,262.08 216.20,262.40C221.38,262.71 227.83,262.78 231.50,263.60C233.67,264.09 234.89,264.60 236.50,265.50C238.27,266.48 239.76,268.16 241.60,269.40C243.58,270.74 245.36,272.08 248.00,273.20C251.68,274.76 256.59,275.75 262.00,277.00C269.31,278.69 280.97,280.97 288.00,282.00C292.75,282.69 294.82,282.86 300.00,283.20C309.43,283.82 332.06,283.93 340.00,284.50C343.38,284.74 345.07,284.81 347.20,285.30C348.99,285.71 350.55,286.15 352.00,287.00C353.49,287.87 354.63,288.92 356.00,290.50C358.02,292.83 360.18,296.17 362.30,300.20C365.39,306.06 368.82,315.39 371.70,322.80C374.43,329.84 376.70,336.67 379.20,343.60" fill="none" stroke="#000000" stroke-width="1.5" clip-path="url(#cc)"/>
<rect x="180.80" y="230.50" width="212.30" height="133.70" fill="none" stroke="#222" stroke-width="1.1"/>
<path d="M195.96,364.20v-1.6M211.13,364.20v-2.6M226.29,364.20v-1.6M241.46,364.20v-2.6M256.62,364.20v-1.6M271.79,364.20v-2.6M286.95,364.20v-1.6M302.11,364.20v-2.6M317.28,364.20v-1.6M332.44,364.20v-2.6M347.61,364.20v-1.6M362.77,364.20v-2.6M377.94,364.20v-1.6M180.80,353.72h1.6M180.80,343.25h2.8M180.80,332.77h1.6M180.80,322.30h2.8M180.80,311.82h1.6M180.80,301.35h2.8M180.80,290.88h1.6M180.80,280.40h2.8M180.80,269.93h1.6M180.80,259.45h2.8M180.80,248.97h1.6M180.80,238.50h2.8" stroke="#222" stroke-width="1" fill="none"/>
<text x="177.80" y="366.80" text-anchor="end" font-size="9.6" fill="#333">1.5</text>
<text x="177.80" y="345.85" text-anchor="end" font-size="9.6" fill="#333">2.0</text>
<text x="177.80" y="324.90" text-anchor="end" font-size="9.6" fill="#333">2.5</text>
<text x="177.80" y="303.95" text-anchor="end" font-size="9.6" fill="#333">3.0</text>
<text x="177.80" y="283.00" text-anchor="end" font-size="9.6" fill="#333">3.5</text>
<text x="177.80" y="262.05" text-anchor="end" font-size="9.6" fill="#333">4.0</text>
<text x="177.80" y="241.10" text-anchor="end" font-size="9.6" fill="#333">4.5</text>
<text x="180.80" y="375.00" text-anchor="middle" font-size="9.6" fill="#333">0</text>
<text x="211.13" y="375.00" text-anchor="middle" font-size="9.6" fill="#333">20</text>
<text x="241.46" y="375.00" text-anchor="middle" font-size="9.6" fill="#333">40</text>
<text x="271.79" y="375.00" text-anchor="middle" font-size="9.6" fill="#333">60</text>
<text x="302.11" y="375.00" text-anchor="middle" font-size="9.6" fill="#333">80</text>
<text x="332.44" y="375.00" text-anchor="middle" font-size="9.6" fill="#333">100</text>
<text x="362.77" y="375.00" text-anchor="middle" font-size="9.6" fill="#333">120</text>
<text x="393.10" y="375.00" text-anchor="middle" font-size="9.6" fill="#333">140</text>
<text x="218.00" y="390.60" font-size="12" fill="#222">Specific capacity, mAh g<tspan dx="0.8" dy="-5.8" font-size="7.5">-1</tspan></text>
<text transform="translate(158.40,300.40) rotate(-90)" text-anchor="middle" font-size="12" fill="#222">Voltage, V</text>
<path d="M184.4,295.90h14.5" stroke="#111111" stroke-width="1.6"/>
<text transform="translate(200.8,298.30) scale(0.9,1)" font-size="6.9" fill="#333">r<tspan dy="1.8" font-size="4.5">p</tspan><tspan dy="-1.8">=10nm (4.3·S</tspan><tspan dy="1.8" font-size="4.5">0</tspan><tspan dy="-1.8">)</tspan></text>
<path d="M184.4,305.77h14.5" stroke="#ff2020" stroke-width="1.6"/>
<text transform="translate(200.8,308.17) scale(0.9,1)" font-size="6.9" fill="#333">r<tspan dy="1.8" font-size="4.5">p</tspan><tspan dy="-1.8">=20nm (2.2·S</tspan><tspan dy="1.8" font-size="4.5">0</tspan><tspan dy="-1.8">)</tspan></text>
<path d="M184.4,315.64h14.5" stroke="#2020ff" stroke-width="1.6"/>
<text transform="translate(200.8,318.04) scale(0.9,1)" font-size="6.9" fill="#333">r<tspan dy="1.8" font-size="4.5">p</tspan><tspan dy="-1.8">=43.2nm (S</tspan><tspan dy="1.8" font-size="4.5">0</tspan><tspan dy="-1.8">)</tspan></text>
<path d="M184.4,325.51h14.5" stroke="#108010" stroke-width="1.6"/>
<text transform="translate(200.8,327.91) scale(0.9,1)" font-size="6.9" fill="#333">r<tspan dy="1.8" font-size="4.5">p</tspan><tspan dy="-1.8">=50nm (0.87·S</tspan><tspan dy="1.8" font-size="4.5">0</tspan><tspan dy="-1.8">)</tspan></text>
<path d="M184.4,335.38h14.5" stroke="#ff9020" stroke-width="1.6"/>
<text transform="translate(200.8,337.78) scale(0.9,1)" font-size="6.9" fill="#333">r<tspan dy="1.8" font-size="4.5">p</tspan><tspan dy="-1.8">=80nm (0.54·S</tspan><tspan dy="1.8" font-size="4.5">0</tspan><tspan dy="-1.8">)</tspan></text>
<path d="M184.4,345.25h14.5" stroke="#9030ff" stroke-width="1.6"/>
<text transform="translate(200.8,347.65) scale(0.9,1)" font-size="6.9" fill="#333">r<tspan dy="1.8" font-size="4.5">p</tspan><tspan dy="-1.8">=100nm (0.43·S</tspan><tspan dy="1.8" font-size="4.5">0</tspan><tspan dy="-1.8">)</tspan></text>
<path d="M184.4,355.12h14.5" stroke="#707010" stroke-width="1.6"/>
<text transform="translate(200.8,357.52) scale(0.9,1)" font-size="6.9" fill="#333">r<tspan dy="1.8" font-size="4.5">p</tspan><tspan dy="-1.8">=120nm (0.36·S</tspan><tspan dy="1.8" font-size="4.5">0</tspan><tspan dy="-1.8">)</tspan></text>
<text x="126.30" y="197.80" font-family='"Liberation Serif", serif' font-size="11.5" fill="#111">(<tspan font-weight="bold">a</tspan>)</text>
<text x="407.50" y="197.80" font-family='"Liberation Serif", serif' font-size="11.5" fill="#111">(<tspan font-weight="bold">b</tspan>)</text>
<text x="268.00" y="416.80" font-family='"Liberation Serif", serif' font-size="11.5" fill="#111">(<tspan font-weight="bold">c</tspan>)</text>
</svg></body></html>
